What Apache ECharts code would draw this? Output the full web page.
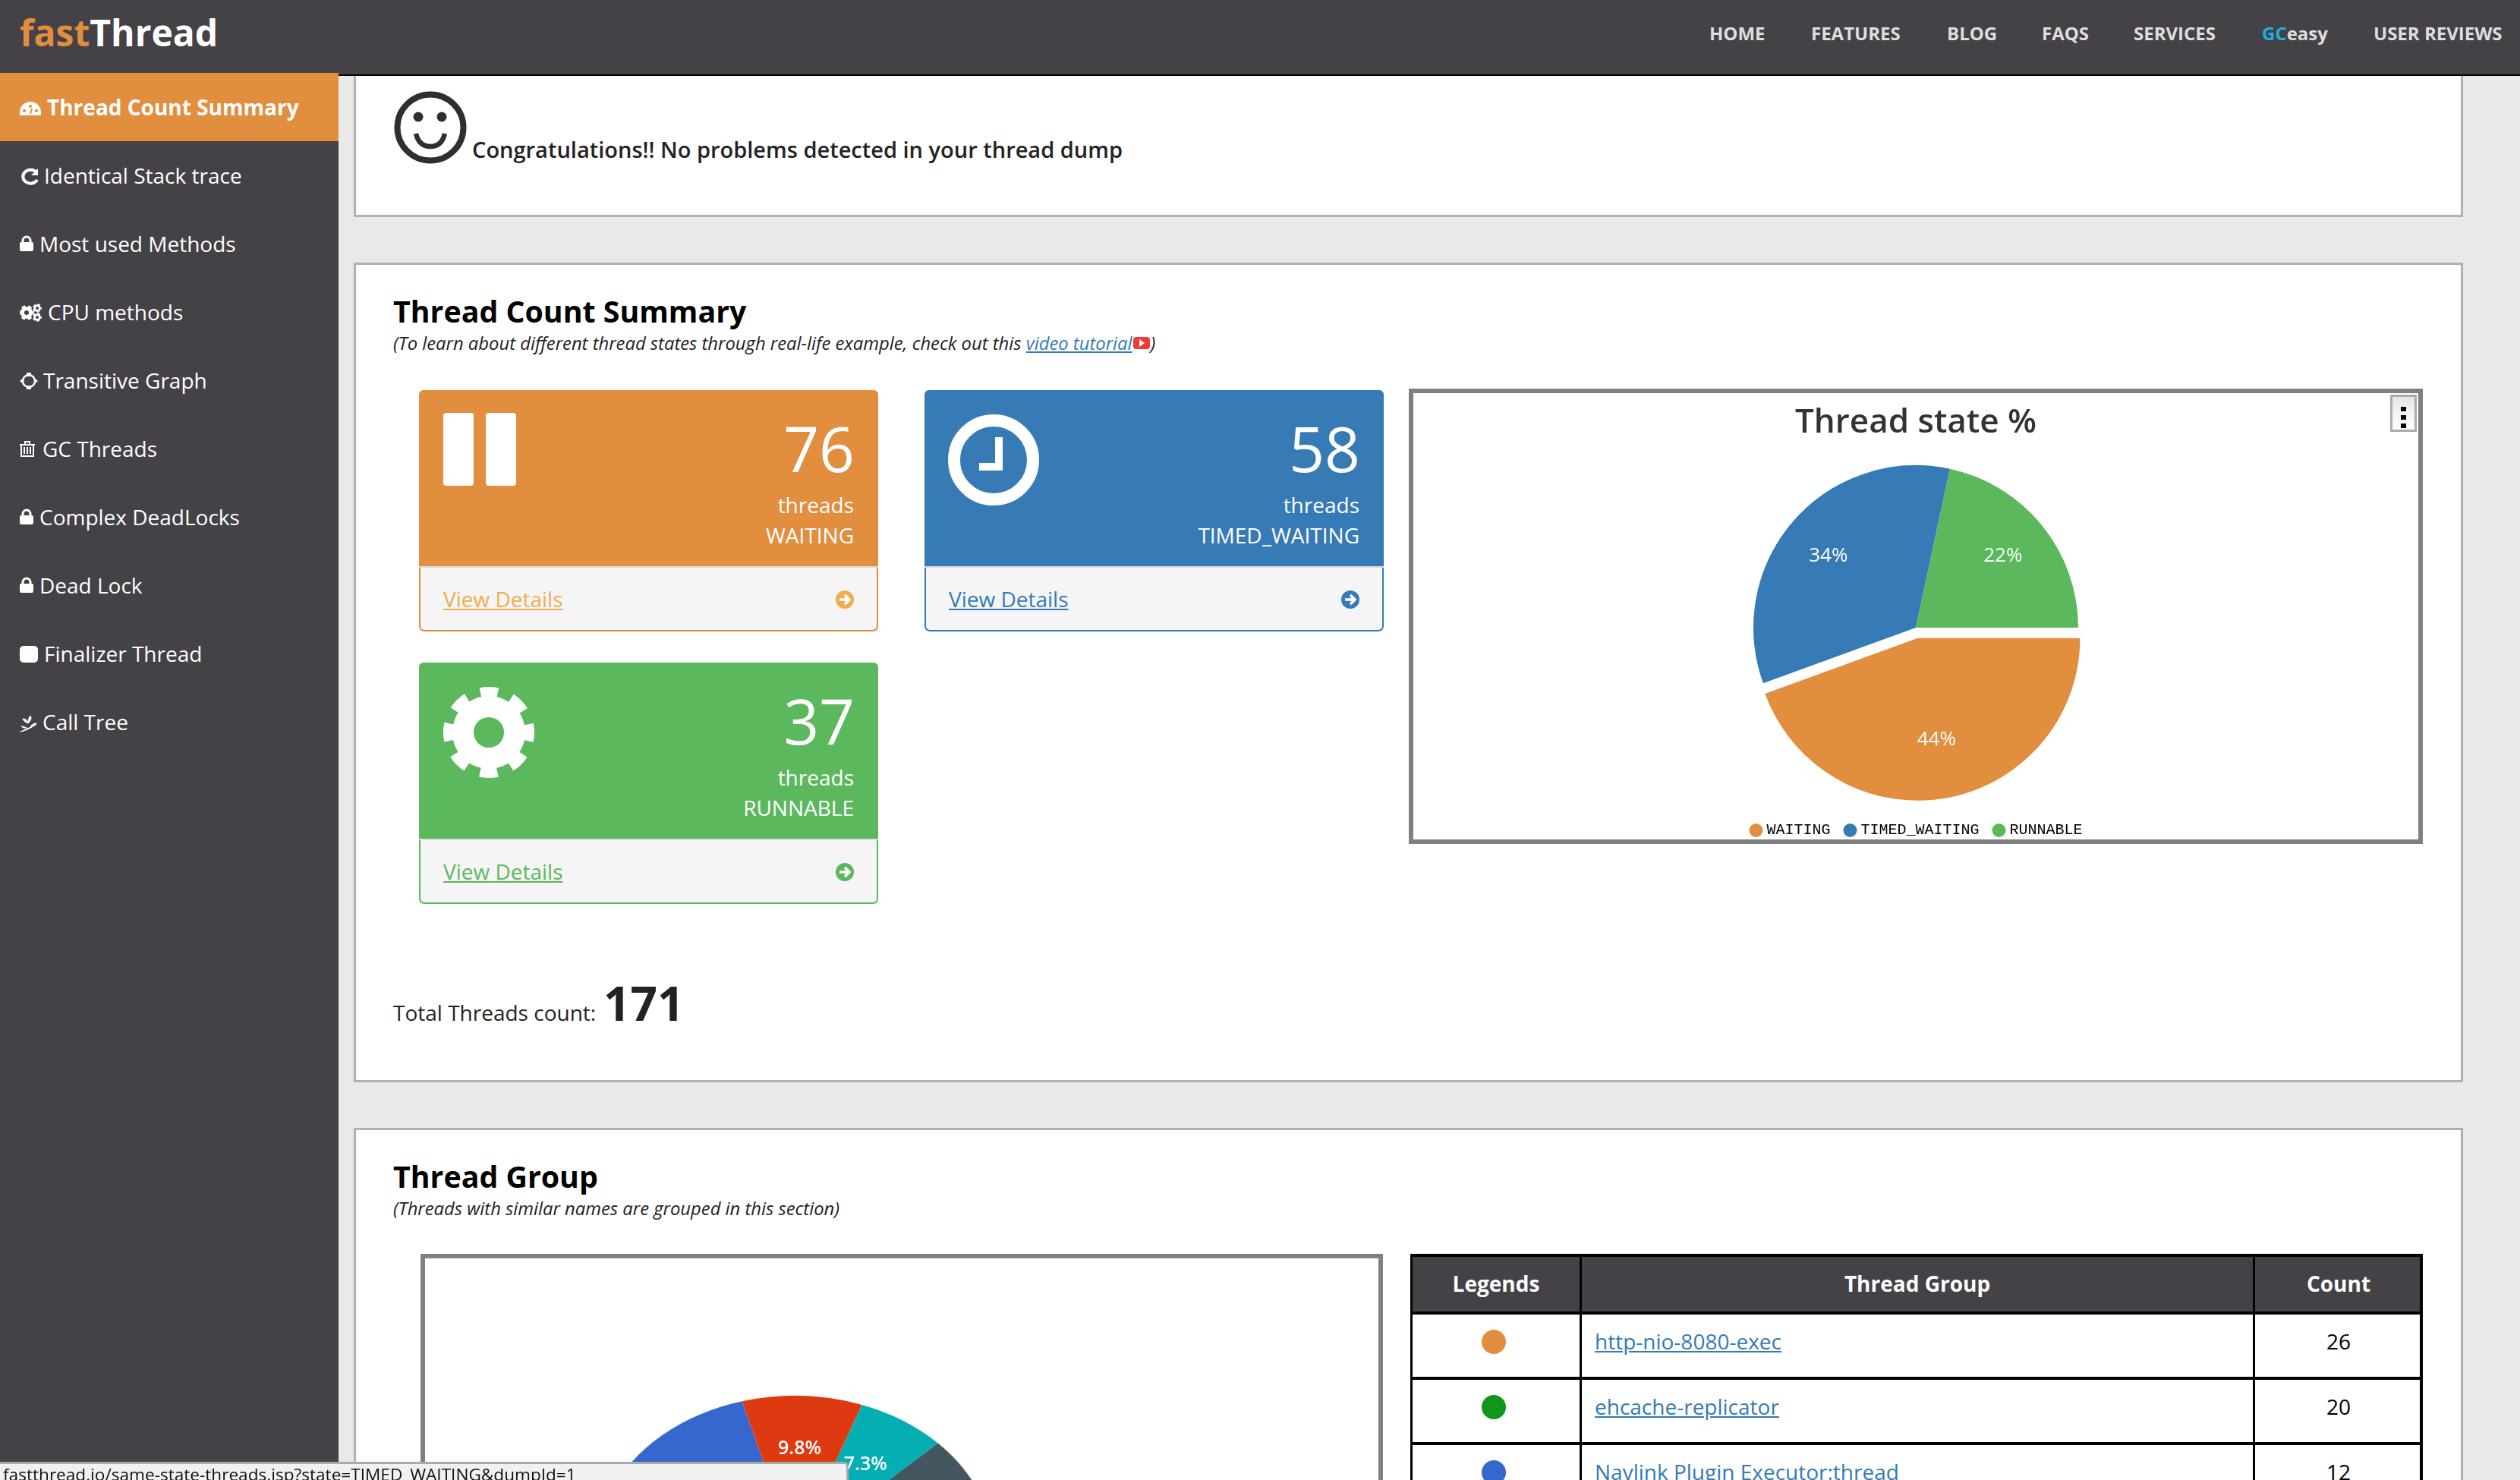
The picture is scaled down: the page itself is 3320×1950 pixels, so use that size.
<!DOCTYPE html>
<html>
<head>
<meta charset="utf-8">
<title>fastThread</title>
<script src="https://cdn.jsdelivr.net/npm/echarts@6/dist/echarts.min.js"></script>
<style>
    html, body { margin: 0; padding: 0; background: #e9e9e9; }
    #page { position: relative; width: 3320px; height: 1950px; overflow: hidden; font-family: "Open Sans", sans-serif; color: #222; }
    #page div, #page a, #page svg { position: absolute; }
    .txt { white-space: nowrap; line-height: 0; }
    .bar { background: #444147; }
    .panel { left: 466px; width: 2779px; background: #fff; border: 3px solid #b0b0b0; box-sizing: border-box; }
    .box { border: 6px solid #808080; background: #fff; box-sizing: border-box; }
    .card { width: 605px; height: 318px; box-sizing: border-box; border: 2px solid; border-radius: 7px; background: #f5f5f5; }
    .head { left: -2px; top: -2px; width: 605px; height: 232px; border-radius: 6px 6px 0 0; border-bottom: 2px solid #ddd; }
</style>
</head>
<body>
<div id="page">
    <div class="panel" style="top:60px;height:226px"></div>
    <div class="panel" style="top:346px;height:1080px"></div>
    <div class="panel" style="top:1486px;height:800px"></div>
    <div class="bar" style="left:0;top:0;width:3320px;height:98px;border-bottom:2px solid #000"></div>
    <div class="bar" style="left:0;top:96px;width:446px;height:1854px"></div>
    <div style="left:0;top:96px;width:446px;height:90px;background:#E28E3F"></div>

    <!-- thread state pie -->
    <div class="box" style="left:1856px;top:512px;width:1336px;height:600px"></div>
    <div id="stateChart" style="left:1862px;top:518px;width:1324px;height:588px"></div>
    <div style="left:3149px;top:520px;width:35px;height:49px;box-sizing:border-box;border:3px solid #aaa;background:linear-gradient(#e6e6e6,#fff)"></div>
    <div style="left:3163px;top:536px;width:7px;height:6px;background:#000"></div>
    <div style="left:3163px;top:547px;width:7px;height:6px;background:#000"></div>
    <div style="left:3163px;top:558px;width:7px;height:6px;background:#000"></div>

    <!-- thread group pie, wider than tall in the picture, its lower part is below the window -->
    <div class="box" style="left:554px;top:1652px;width:1268px;height:1000px"></div>
    <div id="groupChart" style="left:597px;top:1658px;width:900px;height:900px;transform-origin:450px 385px;transform:scaleX(1.284)"></div>
    <!-- same pie, not stretched, only for the labels -->
    <div id="groupLabels" style="left:597px;top:1658px;width:900px;height:900px"></div>

    <!-- browser status bar -->
    <div style="left:0;top:1926px;width:1115px;height:24px;box-sizing:content-box;background:#f1f1f1;border-top:3px solid #aaa;border-right:3px solid #aaa;border-radius:0 6px 0 0;z-index:5"></div>
</div>

<script>
    var page = document.getElementById('page')

    // text placed by its baseline, align is l, r or c
    function put(x, base, str, size, opt) {
        opt = opt || {}
        var d = document.createElement('div')
        d.className = 'txt'
        d.innerHTML = str
        d.style.top = (base - size * 0.388) + 'px'
        d.style.fontSize = size + 'px'
        d.style.color = opt.color || '#222'
        d.style.fontWeight = opt.weight || 400
        if (opt.italic) d.style.fontStyle = 'italic'
        if (opt.link) d.style.textDecoration = 'underline'
        if (opt.z) d.style.zIndex = opt.z
        if (opt.align == 'r') {
            d.style.right = (3320 - x) + 'px'
        } else if (opt.align == 'c') {
            d.style.left = x + 'px'
            d.style.transform = 'translateX(-50%)'
        } else {
            d.style.left = x + 'px'
        }
        page.appendChild(d)
    }

    function svg(x, y, w, h, inner) {
        page.insertAdjacentHTML('beforeend', '<svg style="left:' + x + 'px;top:' + y + 'px" width="' + w + '" height="' + h + '" viewBox="0 0 ' + w + ' ' + h + '">' + inner + '</svg>')
    }

    // gear made of a toothed ring, cut with the colour behind it
    function gear(cx, cy, r, teeth, hole, fill, back) {
        var period = 2 * Math.PI * r * 0.88 / teeth
        var dash = period * 0.55
        return '<circle cx="' + cx + '" cy="' + cy + '" r="' + (r * 0.8) + '" fill="' + fill + '"/>' +
            '<circle cx="' + cx + '" cy="' + cy + '" r="' + (r * 0.88) + '" fill="none" stroke="' + fill + '" stroke-width="' + (r * 0.24) + '" stroke-dasharray="' + dash + ' ' + (period - dash) + '" stroke-dashoffset="' + (dash / 2) + '"/>' +
            '<circle cx="' + cx + '" cy="' + cy + '" r="' + hole + '" fill="' + back + '"/>'
    }

    /**
     * top bar
     */
    put(26, 62, '<span style="color:#E28E3F">fast</span>Thread', 48, { color: '#fff', weight: 700 })
    var navList = [
        ['HOME', 2252], ['FEATURES', 2386], ['BLOG', 2565], ['FAQS', 2690], ['SERVICES', 2811],
        ['<span style="color:#1ab2dc">GC</span>easy', 2980], ['USER REVIEWS', 3127]
    ]
    for (var i = 0; i < navList.length; i++) {
        put(navList[i][1], 53, navList[i][0], 24, { color: '#dedede', weight: 700 })
    }

    /**
     * side menu
     */
    var lockIcon = '<rect x="0" y="9" width="18" height="12" rx="2" fill="#fff"/><path d="M4 10V7a5 5 0 0 1 10 0v3" fill="none" stroke="#fff" stroke-width="3"/>'
    var menuList = [
        { name: 'Thread Count Summary', x: 62, weight: 700, icon: '<path d="M0 22v-4a14 14 0 0 1 28 0v4z" fill="#fff"/><circle cx="6" cy="16" r="2" fill="#E28E3F"/><circle cx="14" cy="10" r="2" fill="#E28E3F"/><circle cx="22" cy="16" r="2" fill="#E28E3F"/><path d="M14 20l2-7" stroke="#E28E3F" stroke-width="2"/>' },
        { name: 'Identical Stack trace', x: 58, icon: '<path d="M22 7a10 9 0 1 0 1 10" fill="none" stroke="#fff" stroke-width="4"/><path d="M24 2v9h-9z" fill="#fff"/>' },
        { name: 'Most used Methods', x: 52, icon: lockIcon },
        { name: 'CPU methods', x: 63, icon: gear(9, 12, 10, 6, 3, '#fff', '#444147') + gear(23, 6, 6, 5, 2, '#fff', '#444147') + gear(23, 18, 6, 5, 2, '#fff', '#444147') },
        { name: 'Transitive Graph', x: 57, icon: '<circle cx="12" cy="12" r="8" fill="none" stroke="#fff" stroke-width="2.5"/><path d="M0 12l5-4v8z M24 12l-5-4v8z" fill="#fff"/><rect x="9" y="1" width="6" height="5" fill="#fff"/><rect x="9" y="18" width="6" height="5" fill="#fff"/>' },
        { name: 'GC Threads', x: 56, icon: '<path d="M0 6h20M2 6v15h16V6M7 6V2h6v4M6 9v9M10 9v9M14 9v9" fill="none" stroke="#fff" stroke-width="2"/>' },
        { name: 'Complex DeadLocks', x: 52, icon: lockIcon },
        { name: 'Dead Lock', x: 52, icon: lockIcon },
        { name: 'Finalizer Thread', x: 58, icon: '<rect x="0" y="1" width="24" height="22" rx="5" fill="#fff"/>' },
        { name: 'Call Tree', x: 56, icon: '<path d="M0 24q10-1 22-10M11 13Q5 11 4 7q6 0 7 6zM11 13q0-7 3-10 3 4-3 10zM14 17q5-5 8-4-1 4-8 4zM9 19Q5 17 2 17q3 3 7 2z" fill="#fff" stroke="#fff"/>' }
    ]
    for (var i = 0; i < menuList.length; i++) {
        var m = menuList[i]
        put(m.x, 152 + 90 * i, m.name, 28, { color: '#fff', weight: m.weight || 400 })
        svg(26, 130 + 90 * i, 34, 26, m.icon)
    }

    /**
     * no problem banner
     */
    svg(518, 118, 100, 100, '<circle cx="49" cy="50" r="43.500" fill="none" stroke="#2f2f2f" stroke-width="8"/>' +
        '<circle cx="33" cy="36" r="6.500" fill="#2f2f2f"/><circle cx="64" cy="36" r="6.500" fill="#2f2f2f"/>' +
        '<path d="M30 58q4 17 19 17t19-17" fill="none" stroke="#2f2f2f" stroke-width="6.500"/>')
    put(622, 208, 'Congratulations!! No problems detected in your thread dump', 29, { weight: 600 })

    /**
     * thread count summary
     */
    put(518, 425, 'Thread Count Summary', 39.3, { color: '#000', weight: 700 })
    put(518, 461, '(To learn about different thread states through real-life example, check out this <span style="color:#337ab7;text-decoration:underline">video tutorial</span><span style="display:inline-block;width:24px"></span>)', 23.8, { italic: true })
    svg(1493, 444, 22, 16, '<rect width="22" height="16" rx="4" fill="#ee3b34"/><path d="M8 3l7 5-7 5z" fill="#fff"/>')

    var threadStates = [
        { name: 'WAITING', value: 76, color: '#E28E3F', linkColor: '#F0AD4E', x: 552, y: 514 },
        { name: 'TIMED_WAITING', value: 58, color: '#367AB6', linkColor: '#337AB7', x: 1218, y: 514 },
        { name: 'RUNNABLE', value: 37, color: '#5CB85C', linkColor: '#5CB85C', x: 552, y: 873 }
    ]
    var cardIcon = {
        WAITING: '<rect x="32" y="30" width="40" height="96" rx="4" fill="#fff"/><rect x="88" y="30" width="40" height="96" rx="4" fill="#fff"/>',
        TIMED_WAITING: '<circle cx="91" cy="92" r="52" fill="none" stroke="#fff" stroke-width="16"/><path d="M98 62v39H72" fill="none" stroke="#fff" stroke-width="10"/>',
        RUNNABLE: gear(92, 92, 60, 8, 20, '#fff', '#5CB85C')
    }
    for (var i = 0; i < threadStates.length; i++) {
        var s = threadStates[i]
        page.insertAdjacentHTML('beforeend', '<div class="card" style="left:' + s.x + 'px;top:' + s.y + 'px;border-color:' + s.color + '">' +
            '<div class="head" style="background:' + s.color + '"></div></div>')
        svg(s.x, s.y, 200, 200, cardIcon[s.name])
        put(s.x + 574, s.y + 108, s.value, 82, { color: '#fff', align: 'r' })
        put(s.x + 573, s.y + 162, 'threads', 28, { color: '#fff', align: 'r' })
        put(s.x + 573, s.y + 202, s.name, 28, { color: '#fff', align: 'r' })
        put(s.x + 32, s.y + 286, 'View Details', 28, { color: s.linkColor, link: true })
        svg(s.x + 549, s.y + 264, 24, 24, '<circle cx="12" cy="12" r="12" fill="' + s.linkColor + '"/><path d="M5 12h12M12 6l6 6-6 6" fill="none" stroke="#fff" stroke-width="3.500"/>')
    }
    put(518, 1345, 'Total Threads count:', 28)
    put(795, 1345, '171', 62, { weight: 700 })

    /**
     * thread group section
     */
    put(518, 1565, 'Thread Group', 39.3, { color: '#000', weight: 700 })
    put(518, 1601, '(Threads with similar names are grouped in this section)', 23.8, { italic: true })
    put(4, 1952, 'fastthread.io/same-state-threads.jsp?state=TIMED_WAITING&amp;dumpId=1', 22.6, { color: '#111', z: 6 })

    // rows 4 and 5 are read from 9.8% and 7.3%, the rest are below the window so names and counts are estimates
    var threadGroups = [
        { name: 'http-nio-8080-exec', value: 26, color: '#E28E3F' },
        { name: 'ehcache-replicator', value: 20, color: '#109618' },
        { name: 'Navlink Plugin Executor:thread', value: 12, color: '#3567CC' },
        { name: 'group 4', value: 8, color: '#DD3A12' },
        { name: 'group 5', value: 6, color: '#05AEB3' },
        { name: 'group 6', value: 5, color: '#43555E' },
        { name: 'group 7', value: 3, color: '#990099' },
        { name: 'group 8', value: 2, color: '#0099C6' }
    ]

    // table of the groups
    function tableLine(x, y, w, h) {
        page.insertAdjacentHTML('beforeend', '<div style="left:' + x + 'px;top:' + y + 'px;width:' + w + 'px;height:' + h + 'px;background:#000"></div>')
    }
    page.insertAdjacentHTML('beforeend', '<div class="bar" style="left:1858px;top:1652px;width:1334px;height:76px"></div>')
    page.insertAdjacentHTML('beforeend', '<div style="left:1858px;top:1732px;width:1334px;height:218px;background:#fff"></div>')
    var lineY = [1652, 1728, 1814, 1900]
    for (var i = 0; i < lineY.length; i++) {
        tableLine(1858, lineY[i], 1334, 4)
    }
    var lineX = [1858, 2081, 2968, 3188]
    for (var i = 0; i < lineX.length; i++) {
        tableLine(lineX[i], 1652, lineX[i] == 3188 ? 4 : 3, 298)
    }
    put(1971, 1702, 'Legends', 28, { color: '#fff', weight: 700, align: 'c' })
    put(2526, 1702, 'Thread Group', 28, { color: '#fff', weight: 700, align: 'c' })
    put(3081, 1702, 'Count', 28, { color: '#fff', weight: 700, align: 'c' })
    for (var i = 0; i < 3; i++) {
        var g = threadGroups[i]
        var rowY = 1768 + 86 * i
        svg(1952, rowY - 16, 32, 32, '<circle cx="16" cy="16" r="16" fill="' + g.color + '"/>')
        put(2101, rowY + 10, g.name, 28, { color: '#337ab7', link: true })
        put(3081, rowY + 10, g.value, 28, { color: '#000', align: 'c' })
    }

    /**
     * pie charts
     */
    // pie labels sit further out than the inside position of echarts, so push them along the slice middle.
    // rx, ry are where the ratio is counted from, r is the radius of the series itself
    function labelPush(list, startAngle, r, rx, ry, ratios, nudge) {
        var total = 0
        for (var i = 0; i < list.length; i++) {
            total += list[i].value
        }
        return function (params) {
            var n = params.dataIndex
            var sum = 0
            for (var i = 0; i < n; i++) {
                sum += list[i].value
            }
            var mid = (-startAngle + (sum + list[n].value / 2) / total * 360) * Math.PI / 180
            var extra = nudge ? nudge[n] : [0, 0]
            return {
                dx: Math.cos(mid) * (rx * ratios[n] - r / 2) + extra[0],
                dy: Math.sin(mid) * (ry * ratios[n] - r / 2) + extra[1]
            }
        }
    }

    function pieData(list) {
        var data = []
        for (var i = 0; i < list.length; i++) {
            data.push({ name: list[i].name, value: list[i].value, itemStyle: { color: list[i].color } })
        }
        return data
    }

    var state_chart = echarts.init(document.getElementById('stateChart'))
    var stateData = pieData(threadStates)
    stateData[0].selected = true
    state_chart.setOption({
        animation: false,
        title: {
            text: 'Thread state %',
            left: 'center',
            top: 12,
            textStyle: { fontFamily: 'Open Sans', fontSize: 44, fontWeight: 600, color: '#333' }
        },
        legend: {
            left: 'center',
            top: 561,
            icon: 'circle',
            itemWidth: 18,
            itemHeight: 18,
            itemGap: 17,
            textStyle: { fontFamily: 'Liberation Mono', fontSize: 20, color: '#000' },
            selectedMode: false
        },
        series: [{
            type: 'pie',
            center: [662, 309],
            radius: 214,
            startAngle: 0,
            selectedMode: 'single',
            selectedOffset: 14,
            percentPrecision: 0,
            avoidLabelOverlap: false,
            silent: true,
            data: stateData,
            label: {
                position: 'inside',
                formatter: '{d}%',
                color: '#fff',
                fontFamily: 'Open Sans',
                fontSize: 26
            },
            labelLine: { show: false },
            labelLayout: labelPush(threadStates, 0, 214, 214, 214, [0.63, 0.7, 0.7], [[1, -2], [0, 6], [-4, 2]])
        }]
    })

    var group_chart = echarts.init(document.getElementById('groupChart'))
    group_chart.setOption({
        animation: false,
        series: [{
            type: 'pie',
            center: [450, 385],
            radius: 204,
            startAngle: 0,
            silent: true,
            data: pieData(threadGroups),
            label: { show: false },
            labelLine: { show: false }
        }]
    })

    var groupRatios = []
    for (var i = 0; i < threadGroups.length; i++) {
        groupRatios.push(0.644)
    }
    var group_labels = echarts.init(document.getElementById('groupLabels'))
    group_labels.setOption({
        animation: false,
        series: [{
            type: 'pie',
            center: [450, 385],
            radius: 204,
            startAngle: 0,
            percentPrecision: 1,
            avoidLabelOverlap: false,
            silent: true,
            data: threadGroups.map(function (g) {
                return { name: g.name, value: g.value }
            }),
            itemStyle: { color: 'transparent' },
            label: {
                position: 'inside',
                formatter: '{d}%',
                color: '#fff',
                fontFamily: 'Open Sans',
                fontWeight: 600,
                fontSize: 25
            },
            labelLine: { show: false },
            labelLayout: labelPush(threadGroups, 0, 204, 262, 204, groupRatios)
        }]
    })
    window.addEventListener('resize', state_chart.resize)
    window.addEventListener('resize', group_chart.resize)
    window.addEventListener('resize', group_labels.resize)
</script>
</body>
</html>
